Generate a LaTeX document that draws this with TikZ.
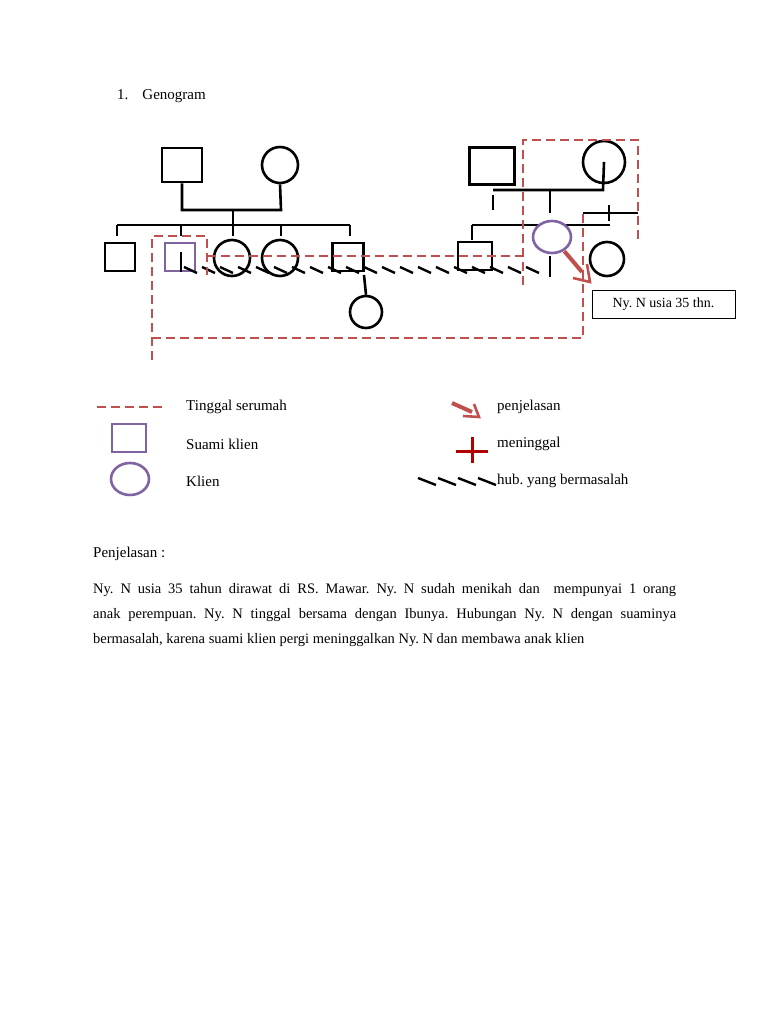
\documentclass[tikz,border=0pt]{standalone}
\usetikzlibrary{shapes.geometric}
\usepackage{fontspec}
\setmainfont{Liberation Serif}
\definecolor{rdc}{HTML}{C0504D}
\definecolor{pc}{HTML}{8064A2}
\begin{document}
\frenchspacing
\begin{tikzpicture}[x=1pt,y=-1pt,
  blk/.style={draw=black,line width=2.6pt},
  ln/.style={black,line width=2.6pt},
  purp/.style={draw=pc,line width=2.6pt},
  rd/.style={draw=rdc,line width=2.6pt,dash pattern=on 9pt off 5pt},
  prob/.style={black,line width=2.4pt},
  txt/.style={font=\fontsize{15}{17}\selectfont,anchor=west,inner sep=0pt}]
\useasboundingbox (0,0) rectangle (768,1024);
\node[txt] (title) at (117,96) {1.\hspace{14pt}Genogram};
% left grandparents
\node[blk,minimum width=40pt,minimum height=34pt,inner sep=0pt] (gf1) at (182,165) {};
\node[blk,circle,minimum size=36pt,inner sep=0pt] (gm1) at (280,165) {};
\draw[ln] (gf1.south) -- (182,210) -- (281,210) -- (gm1.south);
\draw[ln] (233,210) -- (233,225);
\draw[ln] (117,225) -- (350,225);
\foreach \x in {117,181,233,281,350} \draw[ln] (\x,225) -- (\x,236);
\node[blk,minimum width=30pt,minimum height=28pt,inner sep=0pt] (c1) at (120,257) {};
\node[purp,minimum width=30pt,minimum height=28pt,inner sep=0pt] (hus) at (180,257) {};
\node[blk,circle,minimum size=36pt,inner sep=0pt] (c3) at (232,258) {};
\node[blk,circle,minimum size=36pt,inner sep=0pt] (c4) at (280,258) {};
\node[blk,minimum width=31pt,minimum height=28pt,inner sep=0pt] (c5) at (348,257) {};
\draw[ln] (181,252) -- (181,272);
\node[blk,circle,minimum size=32pt,inner sep=0pt] (kid) at (366,312) {};
\draw[ln] (364,275) -- (kid.north);
% right grandparents
\node[blk,minimum width=45pt,minimum height=37pt,inner sep=0pt] (gf2) at (492,166) {};
\node[blk,circle,minimum size=42pt,inner sep=0pt] (gm2) at (604,162) {};
\draw[ln] (gm2.center) -- (603,190) -- (493,190);
\draw[ln] (493,195) -- (493,210);
\draw[ln] (550,190) -- (550,213);
\draw[ln] (472,225) -- (610,225);
\draw[ln] (472,225) -- (472,240);
\draw[ln] (583,213) -- (638,213);
\draw[ln] (609,205) -- (609,221);
\node[blk,minimum width=34pt,minimum height=28pt,inner sep=0pt] (c6) at (475,256) {};
\node[purp,fill=white,ellipse,minimum width=38pt,minimum height=32pt,inner sep=0pt] (cl) at (552,237) {};
\node[blk,circle,minimum size=34pt,inner sep=0pt] (sis) at (607,259) {};
\draw[ln] (550,256) -- (550,277);
% problem relation
\foreach \x in {184,202,...,540} \draw[prob] (\x,267) -- (\x+13,273);
% red dashed
\draw[rd] (523,285) -- (523,140) -- (638,140) -- (638,240);
\draw[rd] (152,360) -- (152,236) -- (207,236) -- (207,275);
\draw[rd] (207,256) -- (523,256);
\draw[rd] (152,338) -- (583,338) -- (583,213);
% arrow
\draw[rdc,line width=4pt] (cl.south east) ++(-2,2) coordinate (a0) -- (582,272) coordinate (a1);
\draw[rdc,line width=2.6pt] (573,278) -- (590,282) -- (587,264);
\node[draw,line width=0.9pt,minimum width=143pt,minimum height=28pt,inner sep=0pt,font=\fontsize{14}{16}\selectfont] (nyn) at (663.5,304) {Ny. N usia 35 thn.};
% legend
\draw[rd] (97,407) -- (165,407);
\node[txt] (l1) at (186,407) {Tinggal serumah};
\node[purp,minimum width=34pt,minimum height=28pt,inner sep=0pt] (lsq) at (129,438) {};
\node[txt] (l2) at (186,444) {Suami klien};
\node[purp,ellipse,minimum width=38pt,minimum height=32pt,inner sep=0pt] (lci) at (130,479) {};
\node[txt] (l3) at (186,481) {Klien};
\draw[rdc,line width=4pt] (452,403) -- (472,412);
\draw[rdc,line width=2.6pt] (463,416) -- (479,417) -- (474,404);
\node[txt] (l4) at (497,407) {penjelasan};
\draw[red!70!black,line width=3pt] (456,451) -- (488,451) (472,437) -- (472,463);
\node[txt] (l5) at (497,444) {meninggal};
\foreach \x in {418,438,458,478} \draw[prob] (\x,478) -- (\x+18,485);
\node[txt] (l6) at (497,481) {hub. yang bermasalah};
% paragraph
\node[txt] (pj) at (93,554) {Penjelasan :};
\node[anchor=north west,inner sep=0pt,text width=583pt,align=justify,font=\fontsize{14.5}{25}\selectfont] (para) at (93,583)
{Ny. N usia 35 tahun dirawat di RS. Mawar. Ny. N sudah menikah dan\ \ mempunyai 1 orang\linebreak anak perempuan. Ny. N tinggal bersama dengan Ibunya. Hubungan Ny. N dengan suaminya\linebreak bermasalah, karena suami klien pergi meninggalkan Ny. N dan membawa anak klien};
\end{tikzpicture}
\end{document}
